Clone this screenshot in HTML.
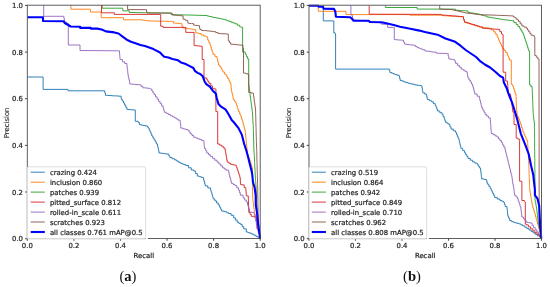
<!DOCTYPE html>
<html><head><meta charset="utf-8"><title>PR curves</title>
<style>
html,body{margin:0;padding:0;background:#fff;}
body{width:550px;height:287px;overflow:hidden;}
svg{display:block;filter:blur(0.3px);}
.t{font-family:"DejaVu Sans","Liberation Sans",sans-serif;font-size:6.9px;fill:#262626;stroke:#262626;stroke-width:0.22px;}
.cap{font-family:"Liberation Serif",serif;font-size:14.6px;fill:#111;}
</style></head>
<body>
<svg width="550" height="287" viewBox="0 0 550 287">
<rect width="550" height="287" fill="#fff"/>
<polyline points="27.3,77.0 43.1,77.0 43.1,89.4 68.0,89.4 68.0,90.8 104.3,90.8 104.8,90.8 104.8,93.0 105.4,93.0 105.4,95.3 107.7,95.3 107.7,95.5 109.9,95.5 109.9,95.6 112.2,95.6 112.2,95.8 114.5,95.8 114.5,95.9 116.7,95.9 116.7,96.0 119.0,96.0 119.0,96.2 121.2,96.2 121.2,99.2 122.3,99.2 122.3,101.1 123.5,101.1 123.5,103.0 124.6,103.0 124.6,105.1 125.8,105.1 125.8,107.3 126.9,107.3 126.9,109.4 135.3,110.0 135.3,121.3 138.2,121.3 138.2,122.5 139.4,122.5 139.4,124.7 141.3,124.7 141.3,125.1 143.1,125.1 143.1,125.5 145.0,125.5 145.0,125.9 147.3,125.9 147.3,127.0 148.4,127.0 148.4,128.1 149.2,128.1 149.2,130.1 150.1,130.1 150.1,132.1 151.0,132.1 151.0,134.0 151.8,134.0 151.8,136.0 152.9,136.0 152.9,137.9 154.1,137.9 154.1,139.8 155.2,139.8 155.2,141.7 156.3,141.7 156.3,143.9 157.5,143.9 157.5,146.2 158.0,146.2 158.0,148.5 158.5,148.5 158.5,150.7 159.0,150.7 159.0,153.0 161.2,153.0 161.2,153.3 163.3,153.3 163.3,153.6 165.4,153.6 165.4,153.9 167.6,153.9 167.6,154.2 168.8,154.2 168.8,155.9 169.9,155.9 169.9,157.6 172.2,157.6 172.2,158.7 174.4,158.7 174.4,159.8 176.3,159.8 176.3,160.9 178.2,160.9 178.2,162.1 180.1,162.1 180.1,163.2 182.0,163.2 182.0,164.0 183.9,164.0 183.9,164.7 185.8,164.7 185.8,165.5 188.6,165.5 188.6,167.8 191.3,167.8 191.3,170.0 193.8,170.0 193.8,171.0 195.6,171.0 195.6,173.6 197.4,173.6 197.4,176.1 199.3,176.1 199.3,176.7 201.2,176.7 201.2,177.4 203.1,177.4 203.1,178.0 203.6,178.0 203.6,180.0 204.1,180.0 204.1,181.9 204.7,181.9 204.7,183.9 205.2,183.9 205.2,185.9 207.8,185.9 207.8,187.9 210.4,187.9 210.4,189.8 211.1,189.8 211.1,192.1 211.8,192.1 211.8,194.4 212.4,194.4 212.4,196.6 213.1,196.6 213.1,198.9 214.8,198.9 214.8,200.9 216.6,200.9 216.6,203.0 218.3,203.0 218.3,205.0 219.7,205.0 219.7,207.4 220.6,207.4 220.6,209.2 221.5,209.2 221.5,210.9 223.2,210.9 223.2,211.4 225.0,211.4 225.0,211.8 226.8,211.8 226.8,212.7 228.5,212.7 228.5,213.5 231.1,213.5 231.1,215.3 233.7,215.3 233.7,217.9 235.4,217.9 235.4,220.1 237.2,220.1 237.2,222.3 238.9,222.3 238.9,223.4 240.7,223.4 240.7,224.5 242.2,224.5 242.2,226.7 243.8,226.7 243.8,228.9 246.3,228.9 246.3,232.0 248.2,232.0 248.2,232.7 250.0,232.7 250.0,233.3 251.9,233.3 251.9,234.2 253.8,234.2 253.8,235.2 255.9,235.2 255.9,236.3 258.0,236.3 258.0,237.4 260.1,237.4 260.1,238.5" fill="none" stroke="#1f77b4" stroke-width="0.92" stroke-linejoin="round"/>
<polyline points="70.9,5.2 70.9,9.2 90.4,9.2 90.4,12.0 101.2,12.0 101.2,17.7 123.5,17.7 123.5,19.8 140.2,19.8 142.6,19.8 142.6,20.2 144.9,20.2 144.9,20.5 147.3,20.5 147.3,20.9 171.4,21.4 173.5,21.4 173.5,23.0 180.3,23.5 181.8,23.5 181.8,26.2 183.0,26.2 183.0,27.9 185.0,28.2 187.1,28.2 187.1,28.6 189.2,28.6 189.2,28.9 191.3,28.9 191.3,29.2 193.4,29.2 193.4,29.6 195.7,29.6 195.7,32.8 197.3,32.8 197.3,33.1 199.0,33.1 199.0,33.5 201.0,33.5 201.0,35.0 203.6,35.0 203.6,36.0 206.1,36.0 206.1,36.9 207.7,36.9 207.7,40.0 208.8,40.0 208.8,42.5 210.0,42.5 210.0,45.0 210.7,45.0 210.7,47.3 211.4,47.3 211.4,49.6 212.2,49.6 212.2,52.0 212.9,52.0 212.9,54.3 214.9,54.3 214.9,56.4 217.0,56.4 217.0,58.5 217.5,58.5 217.5,60.7 218.0,60.7 218.0,62.8 218.5,62.8 218.5,65.0 219.8,65.0 219.8,66.8 221.1,66.8 221.1,68.5 221.9,68.5 221.9,70.2 222.8,70.2 222.8,72.0 224.6,72.0 224.6,74.2 226.3,74.2 226.3,76.3 227.6,76.3 227.6,78.5 228.9,78.5 228.9,80.7 229.8,80.7 229.8,82.4 230.7,82.4 230.7,84.1 231.0,84.1 231.0,86.4 231.2,86.4 231.2,88.8 231.5,88.8 231.5,91.1 231.9,91.1 231.9,93.3 232.4,93.3 232.4,95.4 232.9,95.4 232.9,97.6 233.3,97.6 233.3,99.8 234.6,99.8 234.6,101.5 235.8,101.5 235.8,103.2 236.5,103.2 236.5,105.3 237.2,105.3 237.2,107.4 237.8,107.4 237.8,109.5 238.5,109.5 238.5,111.6 239.7,111.6 239.7,114.2 240.8,114.2 240.8,116.8 241.5,116.8 241.5,119.1 242.3,119.1 242.3,121.3 243.0,121.3 243.0,123.6 243.6,123.6 243.6,125.9 244.2,125.9 244.2,128.1 244.7,128.1 244.7,130.4 245.3,130.4 245.3,132.7 245.5,132.7 245.5,135.0 245.7,135.0 245.7,137.2 246.0,137.2 246.0,139.5 246.2,139.5 246.2,141.7 246.4,141.7 246.4,144.0 246.6,144.0 246.6,146.3 246.9,146.3 246.9,148.5 247.1,148.5 247.1,150.8 247.4,150.8 247.4,153.0 247.6,153.0 247.6,155.3 248.4,155.3 248.4,157.6 249.3,157.6 249.3,159.9 250.2,159.9 250.2,162.1 251.0,162.1 251.0,164.4 251.5,164.4 251.5,166.3 252.0,166.3 252.0,168.1 252.5,168.1 252.5,170.0 252.5,191.7 253.0,202.0 253.3,202.0 253.3,204.1 253.5,204.1 253.5,206.1 253.8,206.1 253.8,208.2 254.1,208.2 254.1,210.3 254.3,210.3 254.3,212.3 254.6,212.3 254.6,214.4 255.6,214.4 255.6,217.1 256.7,217.1 256.7,219.7 257.1,219.7 257.1,221.8 257.4,221.8 257.4,223.8 257.8,223.8 257.8,225.9 258.1,225.9 258.1,227.9 258.5,227.9 258.5,230.0 258.9,230.0 258.9,232.1 259.3,232.1 259.3,234.2 259.7,234.2 259.7,236.4 260.1,236.4 260.1,238.5" fill="none" stroke="#ff7f0e" stroke-width="0.92" stroke-linejoin="round"/>
<polyline points="102.2,5.2 102.2,8.2 122.8,8.2 122.8,10.8 129.2,10.8 129.2,12.4 145.0,12.8 171.1,13.0 171.1,14.6 195.0,15.2 205.0,15.5 207.1,15.5 207.1,16.0 209.2,16.0 209.2,16.5 211.3,16.5 211.3,17.0 213.6,17.0 213.6,17.5 215.8,17.5 215.8,17.9 218.1,17.9 218.1,18.4 220.3,18.4 220.3,18.8 222.6,18.8 222.6,19.3 224.9,19.3 224.9,20.0 227.1,20.0 227.1,20.8 229.4,20.8 229.4,21.5 231.3,21.5 231.3,22.3 233.2,22.3 233.2,23.0 235.1,23.0 235.1,23.8 237.3,23.8 237.3,25.2 239.6,25.2 239.6,26.7 241.9,27.2 242.6,27.2 242.6,28.0 242.6,52.1 245.3,52.1 245.3,54.4 246.4,54.4 246.4,56.6 247.6,56.6 247.6,58.9 248.7,58.9 248.7,62.0 248.7,84.4 249.0,84.4 249.0,86.7 249.3,86.7 249.3,89.0 249.6,89.0 249.6,91.2 249.8,91.2 249.8,93.5 250.1,93.5 250.1,95.8 250.4,95.8 250.4,98.0 250.7,98.0 250.7,100.3 251.0,100.3 251.0,102.6 251.3,102.6 251.3,104.9 251.6,104.9 251.6,107.1 251.9,107.1 251.9,109.4 252.2,109.4 252.2,111.6 252.5,111.6 252.5,113.9 252.6,113.9 252.6,116.0 252.7,116.0 252.7,118.1 252.8,118.1 252.8,120.2 252.9,120.2 252.9,122.3 253.1,122.3 253.1,124.3 253.2,124.3 253.2,126.4 253.3,126.4 253.3,128.5 253.4,128.5 253.4,130.6 253.5,130.6 253.5,132.7 253.9,150.0 254.0,150.0 254.0,152.3 254.1,152.3 254.1,154.5 254.3,154.5 254.3,156.8 254.4,156.8 254.4,159.1 254.5,159.1 254.5,161.4 254.6,161.4 254.6,163.6 254.7,163.6 254.7,165.9 254.8,165.9 254.8,168.2 255.0,168.2 255.0,170.5 255.1,170.5 255.1,172.7 255.2,172.7 255.2,175.0 255.3,175.0 255.3,177.2 255.5,177.2 255.5,179.4 255.6,179.4 255.6,181.7 255.8,181.7 255.8,183.9 255.9,183.9 255.9,186.1 256.1,186.1 256.1,188.3 256.2,188.3 256.2,190.6 256.4,190.6 256.4,192.8 256.5,192.8 256.5,195.0 256.6,195.0 256.6,197.1 256.6,197.1 256.6,199.3 256.6,199.3 256.6,201.4 256.7,201.4 256.7,203.6 256.8,203.6 256.8,205.7 256.8,205.7 256.8,207.9 256.9,207.9 256.9,210.0 256.9,210.0 256.9,212.1 256.9,212.1 256.9,214.3 257.0,214.3 257.0,216.4 257.1,216.4 257.1,218.6 257.1,218.6 257.1,220.7 257.1,220.7 257.1,222.9 257.2,222.9 257.2,225.0 257.7,225.0 257.7,227.2 258.2,227.2 258.2,229.5 258.6,229.5 258.6,231.8 259.1,231.8 259.1,234.0 259.6,234.0 259.6,236.2 260.1,236.2 260.1,238.5" fill="none" stroke="#2ca02c" stroke-width="0.92" stroke-linejoin="round"/>
<polyline points="101.5,5.2 101.5,12.8 114.3,12.8 114.3,14.4 160.7,14.4 160.7,26.2 163.0,26.2 163.0,27.4 185.8,27.4 185.8,32.4 194.1,32.4 194.1,45.6 196.1,45.6 196.1,45.8 198.1,45.8 198.1,46.0 200.2,46.0 200.2,46.2 202.2,46.2 202.2,46.4 202.2,59.5 204.0,59.5 204.0,60.5 204.0,78.0 206.8,78.0 206.8,79.9 207.9,79.9 207.9,81.6 209.0,81.6 209.0,83.3 210.8,83.3 210.8,85.9 212.5,85.9 212.5,88.5 215.9,89.0 215.9,111.6 217.7,111.6 217.7,112.8 217.7,144.0 219.6,144.0 219.6,145.1 221.5,145.1 221.5,146.2 223.2,146.2 223.2,147.9 224.9,147.9 224.9,149.6 225.3,149.6 225.3,151.7 225.7,151.7 225.7,153.8 226.1,153.8 226.1,155.8 226.4,155.8 226.4,157.9 226.8,157.9 226.8,160.0 227.2,160.0 227.2,162.1 228.9,162.1 228.9,163.2 230.6,163.2 230.6,164.4 232.5,164.4 232.5,164.8 234.3,164.8 234.3,165.1 236.2,165.1 236.2,165.5 236.6,167.6 237.2,167.6 237.2,169.6 237.9,169.6 237.9,171.5 238.5,171.5 238.5,173.4 239.2,173.4 239.2,175.4 239.8,175.4 239.8,177.7 240.3,177.7 240.3,180.0 240.5,184.4 243.1,184.9 244.2,184.9 244.2,187.5 245.7,187.5 245.7,188.6 245.9,188.6 245.9,191.0 246.1,191.0 246.1,193.5 246.3,193.5 246.3,195.9 248.3,195.9 248.3,198.0 248.8,212.5 250.1,212.5 250.1,214.4 251.3,214.4 251.3,216.3 253.8,216.3 253.8,216.9 256.3,216.9 256.3,217.6 256.4,217.6 256.4,219.9 256.6,219.9 256.6,222.1 256.7,222.1 256.7,224.4 256.9,224.4 256.9,226.6 257.0,226.6 257.0,228.9 258.8,228.9 258.8,232.0 259.2,232.0 259.2,234.2 259.7,234.2 259.7,236.3 260.1,236.3 260.1,238.5" fill="none" stroke="#d62728" stroke-width="0.92" stroke-linejoin="round"/>
<polyline points="43.7,5.2 43.7,16.3 63.5,16.3 63.9,16.3 63.9,18.2 64.3,18.2 64.3,20.1 64.7,20.1 64.7,22.0 66.5,22.0 66.5,23.4 68.3,23.4 68.3,24.7 68.3,45.0 80.0,45.0 80.0,50.5 116.4,50.8 119.5,50.8 119.5,52.0 120.1,59.5 122.4,59.5 122.4,61.8 124.7,61.8 124.7,63.5 126.9,63.5 126.9,65.2 127.1,65.2 127.1,67.2 127.3,67.2 127.3,69.3 127.6,69.3 127.6,71.3 127.8,71.3 127.8,73.4 128.0,73.4 128.0,75.4 128.4,75.4 128.4,77.6 128.9,77.6 128.9,79.7 129.4,79.7 129.4,81.8 129.8,81.8 129.8,84.0 132.2,84.0 132.2,84.2 134.6,84.2 134.6,84.5 137.0,84.5 137.0,84.7 139.4,84.7 139.4,84.9 141.1,84.9 141.1,86.3 142.8,86.3 142.8,87.8 145.2,87.8 145.2,88.0 147.6,88.0 147.6,88.3 150.0,88.3 150.0,88.5 150.7,89.0 151.8,89.0 151.8,90.9 152.9,90.9 152.9,92.7 154.0,92.7 154.0,94.6 155.5,94.6 155.5,96.9 157.1,96.9 157.1,99.1 158.6,99.1 158.6,101.4 160.1,101.4 160.1,103.6 161.6,103.6 161.6,105.8 163.1,105.8 163.1,108.0 163.7,108.0 163.7,110.2 164.3,110.2 164.3,112.3 166.3,112.3 166.3,113.4 168.3,113.4 168.3,114.5 170.4,114.5 170.4,115.7 172.4,115.7 172.4,116.8 174.4,116.8 174.4,117.9 176.3,117.9 176.3,119.0 178.2,119.0 178.2,120.2 180.1,120.2 180.1,121.3 180.3,121.3 180.3,123.6 180.6,123.6 180.6,125.8 180.8,125.8 180.8,128.1 183.2,128.1 183.2,128.9 185.6,128.9 185.6,129.6 188.0,129.6 188.0,130.4 189.2,130.4 189.2,132.1 190.3,132.1 190.3,133.8 192.0,133.8 192.0,135.5 193.7,135.5 193.7,137.2 195.6,137.2 195.6,137.9 197.5,137.9 197.5,138.7 199.4,138.7 199.4,139.4 201.7,139.4 201.7,140.6 203.9,140.6 203.9,141.7 204.5,148.5 205.7,148.5 205.7,150.8 206.8,150.8 206.8,153.0 208.5,153.0 208.5,154.7 210.2,154.7 210.2,156.4 212.5,156.4 212.5,158.3 214.7,158.3 214.7,160.2 217.0,160.2 217.0,162.1 218.9,162.1 218.9,164.0 220.7,164.0 220.7,165.9 222.6,165.9 222.6,167.8 224.3,167.8 224.3,169.0 226.1,169.0 226.1,170.2 228.7,170.2 228.7,172.8 229.2,172.8 229.2,174.9 229.7,174.9 229.7,177.0 230.3,177.0 230.3,179.1 230.8,179.1 230.8,181.2 231.3,181.2 231.3,183.3 233.2,183.3 233.2,184.5 235.0,184.5 235.0,185.7 236.8,185.7 236.8,187.8 238.5,187.8 238.5,190.0 239.4,190.0 239.4,192.6 240.3,192.6 240.3,195.2 243.1,195.2 243.1,198.0 244.7,198.0 244.7,200.1 246.3,200.1 246.3,202.1 247.5,202.1 247.5,205.0 248.2,205.0 248.2,206.9 248.8,206.9 248.8,208.8 249.6,208.8 249.6,212.0 253.8,212.5 254.2,212.5 254.2,214.6 254.7,214.6 254.7,216.7 255.1,216.7 255.1,218.8 255.7,218.8 255.7,221.3 256.3,221.3 256.3,223.8 256.7,223.8 256.7,225.9 257.2,225.9 257.2,228.0 257.6,228.0 257.6,230.1 258.2,230.1 258.2,232.1 258.9,232.1 258.9,234.0 259.5,234.0 259.5,236.0 260.1,236.0 260.1,238.5" fill="none" stroke="#9467bd" stroke-width="0.92" stroke-linejoin="round"/>
<polyline points="127.6,5.2 127.6,9.6 145.5,9.6 146.5,9.6 146.5,12.0 147.5,12.0 147.5,13.0 172.2,13.2 172.2,15.0 174.4,15.0 174.4,15.2 176.6,15.2 176.6,15.4 178.7,15.4 178.7,15.6 180.9,15.6 180.9,15.8 183.1,15.8 183.1,16.0 183.1,19.2 185.2,19.2 185.2,20.2 187.8,20.5 187.8,23.1 191.5,23.6 193.6,23.6 193.6,25.2 195.5,25.2 195.5,25.4 197.5,25.4 197.5,25.6 199.4,25.6 199.4,25.8 199.9,29.4 201.4,29.4 201.4,30.5 204.5,30.6 206.8,30.6 206.8,30.9 209.1,30.9 209.1,31.1 211.3,31.1 211.3,31.4 213.6,31.4 213.6,31.7 215.8,31.7 215.8,32.6 218.1,32.6 218.1,33.5 228.3,34.0 228.3,40.8 229.4,40.8 229.4,42.5 230.6,42.5 230.6,44.2 232.9,44.2 232.9,44.4 235.1,44.4 235.1,44.6 237.4,44.6 237.4,44.9 239.6,44.9 239.6,45.1 241.9,45.1 241.9,45.3 243.0,45.3 243.0,47.6 243.5,48.0 243.5,73.1 245.6,73.1 245.6,73.7 247.6,73.7 247.6,74.3 248.7,74.3 248.7,75.0 248.7,92.4 250.9,92.4 250.9,93.0 253.2,93.0 253.2,93.5 253.5,93.5 253.5,95.8 253.8,95.8 253.8,98.0 254.1,98.0 254.1,100.3 254.4,100.3 254.4,102.6 254.8,102.6 254.8,105.1 255.1,105.1 255.1,107.5 255.5,107.5 255.5,110.0 255.6,110.0 255.6,112.2 255.6,112.2 255.6,114.4 255.7,114.4 255.7,116.6 255.8,116.6 255.8,118.8 255.8,118.8 255.8,120.9 255.9,120.9 255.9,123.1 255.9,123.1 255.9,125.3 256.0,125.3 256.0,127.5 256.1,127.5 256.1,129.7 256.1,129.7 256.1,131.9 256.2,131.9 256.2,134.1 256.2,134.1 256.2,136.2 256.3,136.2 256.3,138.4 256.4,138.4 256.4,140.6 256.4,140.6 256.4,142.8 256.5,142.8 256.5,145.0 256.6,145.0 256.6,147.2 256.6,147.2 256.6,149.4 256.7,149.4 256.7,151.6 256.8,151.6 256.8,153.8 256.8,153.8 256.8,155.9 256.9,155.9 256.9,158.1 256.9,158.1 256.9,160.3 257.0,160.3 257.0,162.5 257.1,162.5 257.1,164.7 257.1,164.7 257.1,166.9 257.2,166.9 257.2,169.1 257.2,169.1 257.2,171.2 257.3,171.2 257.3,173.4 257.4,173.4 257.4,175.6 257.4,175.6 257.4,177.8 257.5,177.8 257.5,180.0 257.5,180.0 257.5,182.2 257.6,182.2 257.6,184.5 257.6,184.5 257.6,186.8 257.7,186.8 257.7,189.0 257.7,189.0 257.7,191.2 257.7,191.2 257.7,193.5 257.8,193.5 257.8,195.8 257.8,195.8 257.8,198.0 257.9,198.0 257.9,200.2 257.9,200.2 257.9,202.5 257.9,202.5 257.9,204.8 258.0,204.8 258.0,207.0 258.0,207.0 258.0,209.2 258.1,209.2 258.1,211.5 258.1,211.5 258.1,213.8 258.1,213.8 258.1,216.0 258.2,216.0 258.2,218.2 258.2,218.2 258.2,220.5 258.3,220.5 258.3,222.8 258.3,222.8 258.3,225.0 258.6,225.0 258.6,227.2 258.9,227.2 258.9,229.5 259.2,229.5 259.2,231.8 259.5,231.8 259.5,234.0 259.8,234.0 259.8,236.2 260.1,236.2 260.1,238.5" fill="none" stroke="#8c564b" stroke-width="0.92" stroke-linejoin="round"/>
<polyline points="27.3,17.3 43.0,17.3 43.0,21.0 63.5,21.2 64.7,23.0 68.3,25.0 70.7,26.5 80.2,26.8 80.2,27.9 90.7,27.9 90.7,28.6 97.5,28.6 101.7,29.5 105.9,31.4 114.3,32.4 118.5,33.5 122.6,36.6 126.8,39.7 131.0,41.8 136.2,43.5 140.4,45.0 145.0,46.0 153.4,49.1 160.0,52.5 162.1,54.8 164.2,56.8 168.4,57.5 172.5,58.9 178.1,60.3 180.9,62.4 185.1,63.8 189.3,65.9 193.4,68.0 194.8,70.8 197.6,72.9 200.2,74.0 202.8,76.3 204.6,81.5 206.3,84.1 209.8,86.7 212.4,90.2 215.9,93.7 216.7,98.0 218.5,104.1 221.1,106.7 225.4,109.3 227.2,112.0 229.4,115.7 231.7,120.0 234.0,122.5 238.5,128.1 241.9,134.9 244.2,144.0 246.4,150.8 248.1,157.0 249.8,163.9 251.6,170.9 252.3,175.0 253.0,182.3 254.6,187.5 255.7,195.9 255.8,205.0 257.0,212.5 258.2,223.8 259.5,233.9 260.1,238.5" fill="none" stroke="#0000ff" stroke-width="2.1" stroke-linejoin="round"/>
<rect x="27.3" y="5.2" width="232.9" height="233.3" fill="none" stroke="#4d4d4d" stroke-width="0.9"/>
<line x1="25.1" y1="238.7" x2="27.3" y2="238.7" stroke="#4d4d4d" stroke-width="1.1"/>
<text x="23.0" y="241.3" text-anchor="end" class="t">0.0</text>
<line x1="25.1" y1="192.0" x2="27.3" y2="192.0" stroke="#4d4d4d" stroke-width="1.1"/>
<text x="23.0" y="194.6" text-anchor="end" class="t">0.2</text>
<line x1="25.1" y1="145.4" x2="27.3" y2="145.4" stroke="#4d4d4d" stroke-width="1.1"/>
<text x="23.0" y="148.0" text-anchor="end" class="t">0.4</text>
<line x1="25.1" y1="98.7" x2="27.3" y2="98.7" stroke="#4d4d4d" stroke-width="1.1"/>
<text x="23.0" y="101.3" text-anchor="end" class="t">0.6</text>
<line x1="25.1" y1="52.1" x2="27.3" y2="52.1" stroke="#4d4d4d" stroke-width="1.1"/>
<text x="23.0" y="54.7" text-anchor="end" class="t">0.8</text>
<line x1="25.1" y1="5.4" x2="27.3" y2="5.4" stroke="#4d4d4d" stroke-width="1.1"/>
<text x="23.0" y="8.0" text-anchor="end" class="t">1.0</text>
<line x1="27.3" y1="238.5" x2="27.3" y2="240.7" stroke="#4d4d4d" stroke-width="1.1"/>
<text x="27.3" y="247.8" text-anchor="middle" class="t">0.0</text>
<line x1="73.9" y1="238.5" x2="73.9" y2="240.7" stroke="#4d4d4d" stroke-width="1.1"/>
<text x="73.9" y="247.8" text-anchor="middle" class="t">0.2</text>
<line x1="120.5" y1="238.5" x2="120.5" y2="240.7" stroke="#4d4d4d" stroke-width="1.1"/>
<text x="120.5" y="247.8" text-anchor="middle" class="t">0.4</text>
<line x1="167.0" y1="238.5" x2="167.0" y2="240.7" stroke="#4d4d4d" stroke-width="1.1"/>
<text x="167.0" y="247.8" text-anchor="middle" class="t">0.6</text>
<line x1="213.6" y1="238.5" x2="213.6" y2="240.7" stroke="#4d4d4d" stroke-width="1.1"/>
<text x="213.6" y="247.8" text-anchor="middle" class="t">0.8</text>
<line x1="260.2" y1="238.5" x2="260.2" y2="240.7" stroke="#4d4d4d" stroke-width="1.1"/>
<text x="260.2" y="247.8" text-anchor="middle" class="t">1.0</text>
<text x="143.8" y="257.5" text-anchor="middle" class="t">Recall</text>
<text transform="translate(9.0,122.9) rotate(-90)" text-anchor="middle" class="t" style="stroke-width:0.1px">Precision</text>
<rect x="27.0" y="166.8" width="118.6" height="72.2" rx="1.5" fill="#fff" fill-opacity="0.8" stroke="#d0d0d0" stroke-width="0.7"/>
<rect x="145.9" y="237.3" width="2.0" height="2.4" fill="#fff"/>
<line x1="30.7" y1="172.2" x2="44.8" y2="172.2" stroke="#1f77b4" stroke-width="0.92"/>
<text x="49.9" y="174.7" class="t">crazing 0.424</text>
<line x1="30.7" y1="182.2" x2="44.8" y2="182.2" stroke="#ff7f0e" stroke-width="0.92"/>
<text x="49.9" y="184.7" class="t">inclusion 0.860</text>
<line x1="30.7" y1="192.1" x2="44.8" y2="192.1" stroke="#2ca02c" stroke-width="0.92"/>
<text x="49.9" y="194.6" class="t">patches 0.939</text>
<line x1="30.7" y1="202.1" x2="44.8" y2="202.1" stroke="#d62728" stroke-width="0.92"/>
<text x="49.9" y="204.6" class="t">pitted_surface 0.812</text>
<line x1="30.7" y1="212.1" x2="44.8" y2="212.1" stroke="#9467bd" stroke-width="0.92"/>
<text x="49.9" y="214.6" class="t">rolled-in_scale 0.611</text>
<line x1="30.7" y1="222.0" x2="44.8" y2="222.0" stroke="#8c564b" stroke-width="0.92"/>
<text x="49.9" y="224.5" class="t">scratches 0.923</text>
<line x1="30.7" y1="232.0" x2="44.8" y2="232.0" stroke="#0000ff" stroke-width="2.1"/>
<text x="49.9" y="234.5" class="t">all classes 0.761 mAP@0.5</text>
<polyline points="323.3,5.5 323.3,20.9 333.8,20.9 333.8,32.8 335.1,32.8 335.1,34.0 335.6,34.0 335.6,69.1 388.8,69.1 389.4,69.1 389.4,70.8 389.9,70.8 389.9,72.5 391.6,72.5 391.6,73.2 393.3,73.2 393.3,74.0 395.2,74.0 395.2,74.6 397.1,74.6 397.1,75.3 399.0,75.3 399.0,75.9 399.6,75.9 399.6,78.2 400.1,78.2 400.1,80.4 402.0,80.4 402.0,81.1 403.9,81.1 403.9,81.9 405.8,81.9 405.8,82.6 408.1,82.6 408.1,83.2 410.3,83.2 410.3,83.8 412.6,83.8 412.6,84.3 414.8,84.3 414.8,84.9 417.1,84.9 417.1,85.3 419.3,85.3 419.3,85.6 421.6,85.6 421.6,86.0 422.0,86.0 422.0,88.3 422.4,88.3 422.4,90.5 422.8,90.5 422.8,92.8 424.5,92.8 424.5,93.9 426.2,93.9 426.2,95.1 426.8,95.1 426.8,97.3 427.3,97.3 427.3,99.6 429.6,99.6 429.6,100.8 431.8,100.8 431.8,101.9 433.5,101.9 433.5,103.6 435.2,103.6 435.2,105.3 436.0,105.3 436.0,107.2 436.7,107.2 436.7,109.1 437.5,109.1 437.5,111.0 439.8,111.0 439.8,112.7 442.0,112.7 442.0,114.4 443.1,114.4 443.1,116.7 444.3,116.7 444.3,118.9 444.9,118.9 444.9,120.6 445.4,120.6 445.4,122.3 447.1,122.3 447.1,123.4 448.8,123.4 448.8,124.5 449.9,124.5 449.9,126.8 451.0,126.8 451.0,129.1 453.3,129.1 453.3,130.8 455.6,130.8 455.6,132.5 456.5,132.5 456.5,134.5 457.3,134.5 457.3,136.4 458.1,136.4 458.1,138.4 459.0,138.4 459.0,140.4 459.4,140.4 459.4,142.4 459.9,142.4 459.9,144.4 460.4,144.4 460.4,146.3 460.8,146.3 460.8,148.3 462.7,148.3 462.7,150.6 464.6,150.6 464.6,152.8 465.7,152.8 465.7,154.7 466.9,154.7 466.9,156.6 468.0,156.6 468.0,158.5 470.3,158.5 470.3,160.2 472.6,160.2 472.6,161.9 474.9,161.9 474.9,163.1 477.1,163.1 477.1,164.2 478.2,164.2 478.2,166.1 479.4,166.1 479.4,167.9 480.5,167.9 480.5,169.8 480.8,169.8 480.8,172.1 481.1,172.1 481.1,174.4 481.3,174.4 481.3,176.6 481.6,176.6 481.6,178.9 483.9,178.9 483.9,179.4 486.2,179.4 486.2,180.0 486.8,180.0 486.8,182.1 487.3,182.1 487.3,184.1 488.8,184.1 488.8,186.3 490.2,186.3 490.2,188.6 491.3,188.6 491.3,190.8 492.4,190.8 492.4,193.1 493.6,193.1 493.6,195.3 494.7,195.3 494.7,197.6 497.4,197.6 497.4,199.1 500.0,199.1 500.0,200.5 501.8,200.5 501.8,201.3 503.5,201.3 503.5,202.2 504.4,202.2 504.4,204.4 505.2,204.4 505.2,206.6 507.0,206.6 507.0,209.2 507.3,209.2 507.3,211.5 507.5,211.5 507.5,213.9 507.8,213.9 507.8,216.2 508.7,216.2 508.7,218.3 509.6,218.3 509.6,220.5 511.4,220.5 511.4,221.4 513.1,221.4 513.1,222.3 515.1,222.3 515.1,222.9 517.2,222.9 517.2,223.4 519.2,223.4 519.2,224.0 521.0,224.0 521.0,224.9 522.7,224.9 522.7,225.8 524.8,225.8 524.8,227.2 526.9,227.2 526.9,228.6 529.0,228.6 529.0,230.0 531.1,230.0 531.1,231.4 533.1,231.4 533.1,232.9 535.2,232.9 535.2,234.3 537.3,234.3 537.3,235.7 539.4,235.7 539.4,237.1 541.5,237.1 541.5,238.5" fill="none" stroke="#1f77b4" stroke-width="0.92" stroke-linejoin="round"/>
<polyline points="318.3,5.5 318.3,11.3 346.0,11.3 346.0,14.6 410.0,14.6 410.0,15.2 441.0,15.2 442.0,15.6 444.3,15.6 444.3,15.8 446.5,15.8 446.5,15.9 448.8,15.9 448.8,16.1 451.1,16.1 451.1,16.2 453.3,16.2 453.3,16.4 455.6,16.4 455.6,16.5 457.9,16.5 457.9,16.7 460.1,16.7 460.1,16.8 462.4,16.8 462.4,17.0 463.5,17.0 463.5,19.3 464.1,19.3 464.1,21.0 464.6,21.0 464.6,22.6 466.9,22.6 466.9,23.2 469.2,23.2 469.2,23.8 470.9,23.8 470.9,24.4 472.6,24.4 472.6,24.9 474.9,24.9 474.9,25.6 477.1,25.6 477.1,26.3 479.4,26.3 479.4,27.0 481.8,27.0 481.8,27.3 484.2,27.3 484.2,27.6 486.7,27.6 486.7,28.0 489.1,28.0 489.1,28.3 491.4,28.3 491.4,30.0 493.6,30.0 493.6,31.7 495.3,31.7 495.3,34.0 497.0,34.0 497.0,36.2 497.9,36.2 497.9,38.2 498.7,38.2 498.7,40.2 499.5,40.2 499.5,42.2 500.4,42.2 500.4,44.2 501.5,44.2 501.5,46.5 502.6,46.5 502.6,48.7 504.1,48.7 504.1,50.6 505.7,50.6 505.7,52.5 507.2,52.5 507.2,54.4 507.9,54.4 507.9,56.3 508.7,56.3 508.7,58.1 509.4,58.1 509.4,60.0 511.3,60.0 511.3,62.0 511.3,84.4 512.6,84.4 512.6,86.1 513.5,86.1 513.5,88.8 514.4,88.8 514.4,91.4 515.2,91.4 515.2,94.0 516.1,94.0 516.1,96.6 516.5,110.0 516.8,110.0 516.8,112.2 517.1,112.2 517.1,114.4 517.4,114.4 517.4,116.6 518.5,116.6 518.5,118.9 519.6,118.9 519.6,121.2 520.2,121.2 520.2,123.1 520.8,123.1 520.8,125.0 521.5,125.0 521.5,127.3 522.3,127.3 522.3,129.7 523.0,129.7 523.0,132.0 523.9,132.0 523.9,134.1 524.8,134.1 524.8,136.2 525.8,136.2 525.8,138.4 526.7,138.4 526.7,140.5 527.6,140.5 527.6,142.6 527.7,142.6 527.7,144.9 527.8,144.9 527.8,147.1 528.0,147.1 528.0,149.4 528.1,149.4 528.1,151.7 528.2,151.7 528.2,153.9 528.3,153.9 528.3,156.2 528.5,156.2 528.5,158.5 528.6,158.5 528.6,160.7 528.7,160.7 528.7,163.0 528.8,163.0 528.8,165.2 528.9,165.2 528.9,167.5 529.0,167.5 529.0,169.8 529.0,169.8 529.0,172.0 529.1,172.0 529.1,174.2 529.2,174.2 529.2,176.5 529.3,176.5 529.3,178.8 529.4,178.8 529.4,181.0 529.5,181.0 529.5,183.2 529.5,183.2 529.5,185.5 529.6,185.5 529.6,187.8 529.7,187.8 529.7,190.0 530.1,190.0 530.1,192.6 530.5,192.6 530.5,195.2 530.9,195.2 530.9,197.3 531.2,197.3 531.2,199.4 531.6,199.4 531.6,201.5 531.9,201.5 531.9,203.6 532.3,203.6 532.3,205.7 532.9,205.7 532.9,207.9 533.6,207.9 533.6,210.1 534.2,210.1 534.2,212.2 534.9,212.2 534.9,214.4 535.5,214.4 535.5,216.8 536.2,216.8 536.2,219.2 536.9,219.2 536.9,221.6 537.5,221.6 537.5,224.0 538.1,224.0 538.1,226.1 538.6,226.1 538.6,228.1 539.2,228.1 539.2,230.2 539.8,230.2 539.8,232.3 540.4,232.3 540.4,234.4 540.9,234.4 540.9,236.4 541.5,236.4 541.5,238.5" fill="none" stroke="#ff7f0e" stroke-width="0.92" stroke-linejoin="round"/>
<polyline points="385.6,5.5 385.6,7.5 417.1,7.5 417.1,9.1 454.4,9.1 455.5,9.1 455.5,10.2 457.8,10.2 457.8,10.3 460.1,10.3 460.1,10.5 462.3,10.5 462.3,10.6 464.6,10.6 464.6,10.8 466.9,10.8 466.9,10.9 468.0,10.9 468.0,12.5 470.3,12.5 470.3,12.9 472.6,12.9 472.6,13.2 474.8,13.2 474.8,13.6 477.1,13.6 477.1,14.0 479.4,14.0 479.4,14.6 481.6,14.6 481.6,15.3 483.9,15.3 483.9,15.9 486.8,15.9 486.8,17.0 489.1,17.0 489.1,17.4 491.3,17.4 491.3,17.8 493.6,17.8 493.6,18.1 495.9,18.1 495.9,18.5 498.1,18.5 498.1,18.9 500.4,18.9 500.4,19.3 502.7,19.3 502.7,19.6 504.9,19.6 504.9,19.9 507.2,19.9 507.2,20.2 509.4,20.2 509.4,20.5 511.7,20.5 511.7,20.8 514.0,20.8 514.0,22.6 516.2,22.6 516.2,24.5 517.9,24.5 517.9,26.4 519.6,26.4 519.6,28.3 520.7,28.3 520.7,30.2 521.9,30.2 521.9,32.1 523.0,32.1 523.0,34.0 523.8,34.0 523.8,36.3 524.5,36.3 524.5,38.5 525.3,38.5 525.3,40.8 526.1,40.8 526.1,43.1 526.8,43.1 526.8,45.3 527.6,45.3 527.6,47.6 528.2,47.6 528.2,49.3 528.7,49.3 528.7,51.0 529.6,51.0 529.6,52.0 529.6,84.9 530.9,84.9 530.9,86.6 532.1,86.6 532.1,88.3 532.2,88.3 532.2,90.5 532.3,90.5 532.3,92.7 532.4,92.7 532.4,94.8 532.5,94.8 532.5,97.0 532.6,97.0 532.6,99.2 532.7,99.2 532.7,101.3 532.7,101.3 532.7,103.5 532.8,103.5 532.8,105.7 532.9,105.7 532.9,107.9 533.0,107.9 533.0,110.1 533.1,110.1 533.1,112.2 533.2,112.2 533.2,114.4 533.4,114.4 533.4,116.5 533.7,116.5 533.7,118.6 533.9,118.6 533.9,120.8 534.2,120.8 534.2,122.9 534.4,122.9 534.4,125.0 534.4,125.0 534.4,127.2 534.4,127.2 534.4,129.4 534.5,129.4 534.5,131.7 534.5,131.7 534.5,133.9 534.5,133.9 534.5,136.1 534.5,136.1 534.5,138.3 534.6,138.3 534.6,140.6 534.6,140.6 534.6,142.8 534.6,142.8 534.6,145.0 534.6,145.0 534.6,147.2 534.6,147.2 534.6,149.4 534.7,149.4 534.7,151.7 534.7,151.7 534.7,153.9 534.7,153.9 534.7,156.1 534.7,156.1 534.7,158.3 534.8,158.3 534.8,160.6 534.8,160.6 534.8,162.8 534.8,162.8 534.8,165.0 534.8,165.0 534.8,167.2 534.8,167.2 534.8,169.4 534.9,169.4 534.9,171.7 534.9,171.7 534.9,173.9 534.9,173.9 534.9,176.1 534.9,176.1 534.9,178.3 535.0,178.3 535.0,180.6 535.0,180.6 535.0,182.8 535.0,182.8 535.0,185.0 535.0,200.5 535.4,200.5 535.4,202.7 535.8,202.7 535.8,204.8 536.2,204.8 536.2,207.0 536.6,207.0 536.6,209.2 536.9,209.2 536.9,211.3 537.1,211.3 537.1,213.4 537.4,213.4 537.4,215.5 537.6,215.5 537.6,217.7 537.9,217.7 537.9,219.8 538.1,219.8 538.1,221.9 538.4,221.9 538.4,224.0 538.8,224.0 538.8,226.1 539.3,226.1 539.3,228.1 539.7,228.1 539.7,230.2 540.2,230.2 540.2,232.3 540.6,232.3 540.6,234.4 541.1,234.4 541.1,236.4 541.5,236.4 541.5,238.5" fill="none" stroke="#2ca02c" stroke-width="0.92" stroke-linejoin="round"/>
<polyline points="369.2,5.5 369.2,14.2 441.0,14.4 442.0,15.0 444.3,15.0 444.3,15.2 446.5,15.2 446.5,15.4 448.8,15.4 448.8,15.6 451.1,15.6 451.1,15.8 453.3,15.8 453.3,15.9 455.6,15.9 455.6,16.1 457.9,16.1 457.9,16.3 460.1,16.3 460.1,16.5 462.4,16.5 462.4,16.7 463.5,16.7 463.5,19.0 464.1,19.0 464.1,20.6 464.6,20.6 464.6,22.3 466.9,22.3 466.9,22.9 469.2,22.9 469.2,23.5 470.9,23.5 470.9,24.1 472.6,24.1 472.6,24.6 474.9,24.6 474.9,25.4 477.1,25.4 477.1,26.1 479.4,26.1 479.4,26.9 482.3,26.9 482.3,28.3 484.6,28.3 484.6,28.5 486.8,28.5 486.8,28.6 489.1,28.6 489.1,28.8 491.3,28.8 491.3,28.9 493.6,28.9 493.6,29.1 495.8,29.1 495.8,29.2 498.1,29.2 498.1,29.4 499.8,29.4 499.8,31.7 501.5,31.7 501.5,34.0 503.1,34.5 503.1,72.2 505.7,72.2 505.7,73.0 505.7,81.0 507.4,81.0 507.4,82.0 507.6,82.0 507.6,84.4 507.8,84.4 507.8,86.8 507.9,86.8 507.9,89.2 508.1,89.2 508.1,91.6 508.3,91.6 508.3,94.0 510.6,94.0 510.6,96.2 510.9,96.2 510.9,98.5 511.2,98.5 511.2,100.7 511.5,100.7 511.5,103.0 511.9,103.0 511.9,105.3 512.2,105.3 512.2,107.6 512.5,107.6 512.5,109.8 512.8,109.8 512.8,112.1 514.0,112.1 514.0,124.5 516.2,124.5 516.2,126.8 516.2,138.1 517.9,138.1 517.9,139.2 519.6,139.2 519.6,140.4 519.6,181.2 521.9,181.2 521.9,183.4 521.9,200.5 524.4,200.5 524.4,201.5 525.3,202.0 525.3,224.0 526.2,224.0 526.2,224.9 528.4,224.9 528.4,226.8 530.6,226.8 530.6,228.8 532.8,228.8 532.8,230.7 534.9,230.7 534.9,232.7 537.1,232.7 537.1,234.6 539.3,234.6 539.3,236.6 541.5,236.6 541.5,238.5" fill="none" stroke="#d62728" stroke-width="0.92" stroke-linejoin="round"/>
<polyline points="350.9,5.5 350.9,14.6 352.0,14.6 352.0,15.9 352.5,15.9 352.5,17.9 353.0,17.9 353.0,20.0 355.1,20.0 355.1,20.2 357.3,20.2 357.3,20.4 359.4,20.4 359.4,20.6 361.6,20.6 361.6,20.8 363.7,20.8 363.7,21.0 365.9,21.0 365.9,21.2 368.0,21.2 368.0,21.3 370.2,21.3 370.2,21.5 372.3,21.5 372.3,21.7 374.5,21.7 374.5,21.9 376.6,21.9 376.6,22.1 378.8,22.1 378.8,22.3 380.9,22.3 380.9,22.5 380.9,24.0 386.3,24.4 387.6,24.4 387.6,27.4 393.7,27.4 394.3,27.4 394.3,28.0 394.3,39.6 396.3,39.6 396.3,39.8 398.4,39.8 398.4,40.0 400.4,40.0 400.4,40.1 402.4,40.1 402.4,40.3 403.5,40.3 403.5,42.2 404.6,42.2 404.6,44.2 406.9,44.2 406.9,44.5 409.1,44.5 409.1,44.8 411.4,44.8 411.4,45.0 413.7,45.0 413.7,45.3 415.4,45.3 415.4,46.5 417.1,46.5 417.1,47.6 419.0,47.6 419.0,48.3 420.9,48.3 420.9,49.1 422.8,49.1 422.8,49.8 425.0,49.8 425.0,51.0 427.5,51.0 427.5,51.3 430.0,51.3 430.0,51.6 434.1,52.1 436.3,52.1 436.3,53.2 447.6,53.5 448.2,53.5 448.2,56.2 448.8,56.2 448.8,58.9 450.7,58.9 450.7,59.3 452.5,59.3 452.5,59.6 454.4,59.6 454.4,60.0 455.0,60.0 455.0,61.7 455.6,61.7 455.6,63.4 457.5,63.4 457.5,65.3 459.3,65.3 459.3,67.2 461.2,67.2 461.2,69.1 463.1,69.1 463.1,70.2 465.0,70.2 465.0,71.4 466.9,71.4 466.9,72.5 467.3,72.5 467.3,74.4 467.6,74.4 467.6,76.2 468.0,76.2 468.0,78.1 469.1,78.1 469.1,80.1 470.3,80.1 470.3,82.0 471.5,82.0 471.5,84.0 472.6,84.0 472.6,86.0 473.2,86.0 473.2,88.0 473.7,88.0 473.7,90.0 474.2,90.0 474.2,92.0 474.8,92.0 474.8,94.0 477.1,94.0 477.1,96.2 479.4,96.2 479.4,98.5 479.9,98.5 479.9,100.8 480.5,100.8 480.5,103.0 481.1,103.0 481.1,105.3 481.6,105.3 481.6,107.6 482.7,107.6 482.7,109.9 483.9,109.9 483.9,112.1 485.0,112.1 485.0,114.4 486.7,114.4 486.7,116.1 488.4,116.1 488.4,117.8 490.2,117.8 490.2,120.0 490.4,120.0 490.4,122.3 490.6,122.3 490.6,124.5 490.8,124.5 490.8,126.8 490.9,126.8 490.9,129.1 491.1,129.1 491.1,131.3 491.3,131.3 491.3,133.6 493.2,133.6 493.2,134.7 495.1,134.7 495.1,135.9 497.0,135.9 497.0,137.0 498.5,137.0 498.5,138.9 500.0,138.9 500.0,140.7 501.5,140.7 501.5,142.6 502.6,142.6 502.6,144.9 503.8,144.9 503.8,147.1 504.9,147.1 504.9,149.4 505.5,149.4 505.5,151.7 506.0,151.7 506.0,153.9 506.6,153.9 506.6,156.2 507.2,156.2 507.2,158.5 507.8,158.5 507.8,160.8 508.3,160.8 508.3,163.1 508.8,163.1 508.8,165.3 509.4,165.3 509.4,167.6 510.0,167.6 510.0,169.8 510.5,169.8 510.5,172.1 511.1,172.1 511.1,174.3 511.7,174.3 511.7,176.6 512.1,176.6 512.1,179.1 512.4,179.1 512.4,181.6 512.8,181.6 512.8,184.1 513.2,184.1 513.2,186.1 513.6,186.1 513.6,188.0 514.0,188.0 514.0,190.0 514.5,195.2 516.0,195.2 516.0,196.9 517.4,196.9 517.4,198.7 518.3,198.7 518.3,201.3 519.2,201.3 519.2,204.0 520.0,204.0 520.0,206.6 520.9,206.6 520.9,209.2 521.1,209.2 521.1,211.1 521.3,211.1 521.3,213.1 521.6,213.1 521.6,215.1 521.8,215.1 521.8,217.0 523.5,217.0 523.5,218.8 524.9,218.8 524.9,220.6 526.2,220.6 526.2,222.3 528.4,222.3 528.4,222.7 530.5,222.7 530.5,223.1 532.1,223.1 532.1,225.3 533.6,225.3 533.6,227.5 535.2,227.5 535.2,229.7 536.8,229.7 536.8,231.9 538.4,231.9 538.4,234.1 539.9,234.1 539.9,236.3 541.5,236.3 541.5,238.5" fill="none" stroke="#9467bd" stroke-width="0.92" stroke-linejoin="round"/>
<polyline points="439.7,5.5 439.7,9.1 449.9,9.5 452.2,9.5 452.2,10.0 454.4,10.0 454.4,10.5 456.7,10.5 456.7,11.0 459.0,11.0 459.0,11.6 461.3,11.6 461.3,12.1 463.5,12.1 463.5,12.6 465.8,12.6 465.8,13.1 468.1,13.1 468.1,13.4 470.3,13.4 470.3,13.6 472.6,13.6 472.6,13.9 474.9,13.9 474.9,14.2 477.1,14.2 477.1,14.4 479.4,14.4 479.4,14.7 490.0,15.0 492.2,15.0 492.2,15.1 494.3,15.1 494.3,15.2 496.5,15.2 496.5,15.3 498.7,15.3 498.7,15.4 500.9,15.4 500.9,15.4 503.0,15.4 503.0,15.5 505.2,15.5 505.2,15.6 507.4,15.6 507.4,15.7 509.5,15.7 509.5,15.8 511.7,15.8 511.7,15.9 513.4,15.9 513.4,17.0 515.1,17.0 515.1,18.1 516.8,18.1 516.8,19.8 518.5,19.8 518.5,21.5 520.2,21.5 520.2,23.8 521.9,23.8 521.9,26.0 524.1,26.0 524.1,27.1 526.4,27.1 526.4,28.3 527.5,28.3 527.5,30.0 528.7,30.0 528.7,31.7 529.9,31.7 529.9,33.4 531.0,33.4 531.0,35.1 532.7,35.1 532.7,35.7 534.4,35.7 534.4,36.2 534.8,37.0 534.8,55.5 536.3,55.5 536.3,57.2 537.8,57.2 537.8,58.9 539.0,58.9 539.0,62.0 539.2,225.0 539.6,225.0 539.6,227.2 540.0,227.2 540.0,229.5 540.4,229.5 540.4,231.8 540.7,231.8 540.7,234.0 541.1,234.0 541.1,236.2 541.5,236.2 541.5,238.5" fill="none" stroke="#8c564b" stroke-width="0.92" stroke-linejoin="round"/>
<polyline points="309.0,5.8 318.3,5.8 318.6,6.8 323.0,6.8 323.6,8.7 334.0,8.9 335.3,11.5 335.9,16.7 350.0,17.2 351.6,18.3 353.4,20.6 368.7,20.7 369.9,22.0 381.5,22.2 386.3,23.2 393.7,25.0 400.0,26.8 410.3,28.8 419.4,30.6 425.0,32.0 431.8,33.5 438.6,35.1 445.4,38.5 450.0,40.1 455.2,41.8 460.5,45.7 465.7,50.0 470.9,53.5 476.1,57.0 480.5,61.4 484.8,64.5 490.1,67.5 495.3,71.8 500.0,76.0 503.1,77.6 503.9,82.6 506.6,87.9 508.3,93.1 510.0,97.5 511.8,101.8 513.5,107.0 514.4,110.0 515.1,112.1 517.4,120.0 520.8,133.6 525.3,144.9 528.7,154.0 531.0,165.3 533.2,174.4 534.9,190.0 534.9,195.2 537.5,198.7 539.2,205.7 540.1,224.9 541.3,238.5" fill="none" stroke="#0000ff" stroke-width="2.1" stroke-linejoin="round"/>
<rect x="309.0" y="5.2" width="232.5" height="233.3" fill="none" stroke="#4d4d4d" stroke-width="0.9"/>
<line x1="306.8" y1="238.7" x2="309.0" y2="238.7" stroke="#4d4d4d" stroke-width="1.1"/>
<text x="304.7" y="241.3" text-anchor="end" class="t">0.0</text>
<line x1="306.8" y1="192.0" x2="309.0" y2="192.0" stroke="#4d4d4d" stroke-width="1.1"/>
<text x="304.7" y="194.6" text-anchor="end" class="t">0.2</text>
<line x1="306.8" y1="145.4" x2="309.0" y2="145.4" stroke="#4d4d4d" stroke-width="1.1"/>
<text x="304.7" y="148.0" text-anchor="end" class="t">0.4</text>
<line x1="306.8" y1="98.7" x2="309.0" y2="98.7" stroke="#4d4d4d" stroke-width="1.1"/>
<text x="304.7" y="101.3" text-anchor="end" class="t">0.6</text>
<line x1="306.8" y1="52.1" x2="309.0" y2="52.1" stroke="#4d4d4d" stroke-width="1.1"/>
<text x="304.7" y="54.7" text-anchor="end" class="t">0.8</text>
<line x1="306.8" y1="5.4" x2="309.0" y2="5.4" stroke="#4d4d4d" stroke-width="1.1"/>
<text x="304.7" y="8.0" text-anchor="end" class="t">1.0</text>
<line x1="309.0" y1="238.5" x2="309.0" y2="240.7" stroke="#4d4d4d" stroke-width="1.1"/>
<text x="309.0" y="247.8" text-anchor="middle" class="t">0.0</text>
<line x1="355.5" y1="238.5" x2="355.5" y2="240.7" stroke="#4d4d4d" stroke-width="1.1"/>
<text x="355.5" y="247.8" text-anchor="middle" class="t">0.2</text>
<line x1="402.0" y1="238.5" x2="402.0" y2="240.7" stroke="#4d4d4d" stroke-width="1.1"/>
<text x="402.0" y="247.8" text-anchor="middle" class="t">0.4</text>
<line x1="448.5" y1="238.5" x2="448.5" y2="240.7" stroke="#4d4d4d" stroke-width="1.1"/>
<text x="448.5" y="247.8" text-anchor="middle" class="t">0.6</text>
<line x1="495.0" y1="238.5" x2="495.0" y2="240.7" stroke="#4d4d4d" stroke-width="1.1"/>
<text x="495.0" y="247.8" text-anchor="middle" class="t">0.8</text>
<line x1="541.5" y1="238.5" x2="541.5" y2="240.7" stroke="#4d4d4d" stroke-width="1.1"/>
<text x="541.5" y="247.8" text-anchor="middle" class="t">1.0</text>
<text x="425.2" y="257.5" text-anchor="middle" class="t">Recall</text>
<text transform="translate(290.7,122.9) rotate(-90)" text-anchor="middle" class="t" style="stroke-width:0.1px">Precision</text>
<rect x="308.7" y="166.8" width="117.9" height="72.2" rx="1.5" fill="#fff" fill-opacity="0.8" stroke="#d0d0d0" stroke-width="0.7"/>
<rect x="426.9" y="237.3" width="2.0" height="2.4" fill="#fff"/>
<line x1="311.8" y1="172.2" x2="325.9" y2="172.2" stroke="#1f77b4" stroke-width="0.92"/>
<text x="331.0" y="174.7" class="t">crazing 0.519</text>
<line x1="311.8" y1="182.2" x2="325.9" y2="182.2" stroke="#ff7f0e" stroke-width="0.92"/>
<text x="331.0" y="184.7" class="t">inclusion 0.864</text>
<line x1="311.8" y1="192.1" x2="325.9" y2="192.1" stroke="#2ca02c" stroke-width="0.92"/>
<text x="331.0" y="194.6" class="t">patches 0.942</text>
<line x1="311.8" y1="202.1" x2="325.9" y2="202.1" stroke="#d62728" stroke-width="0.92"/>
<text x="331.0" y="204.6" class="t">pitted_surface 0.849</text>
<line x1="311.8" y1="212.1" x2="325.9" y2="212.1" stroke="#9467bd" stroke-width="0.92"/>
<text x="331.0" y="214.6" class="t">rolled-in_scale 0.710</text>
<line x1="311.8" y1="222.0" x2="325.9" y2="222.0" stroke="#8c564b" stroke-width="0.92"/>
<text x="331.0" y="224.5" class="t">scratches 0.962</text>
<line x1="311.8" y1="232.0" x2="325.9" y2="232.0" stroke="#0000ff" stroke-width="2.1"/>
<text x="331.0" y="234.5" class="t">all classes 0.808 mAP@0.5</text>
<text x="127.9" y="281.4" text-anchor="middle" class="cap">(<tspan font-weight="bold">a</tspan>)</text>
<text x="412" y="281.4" text-anchor="middle" class="cap">(<tspan font-weight="bold">b</tspan>)</text>
</svg>
</body></html>
